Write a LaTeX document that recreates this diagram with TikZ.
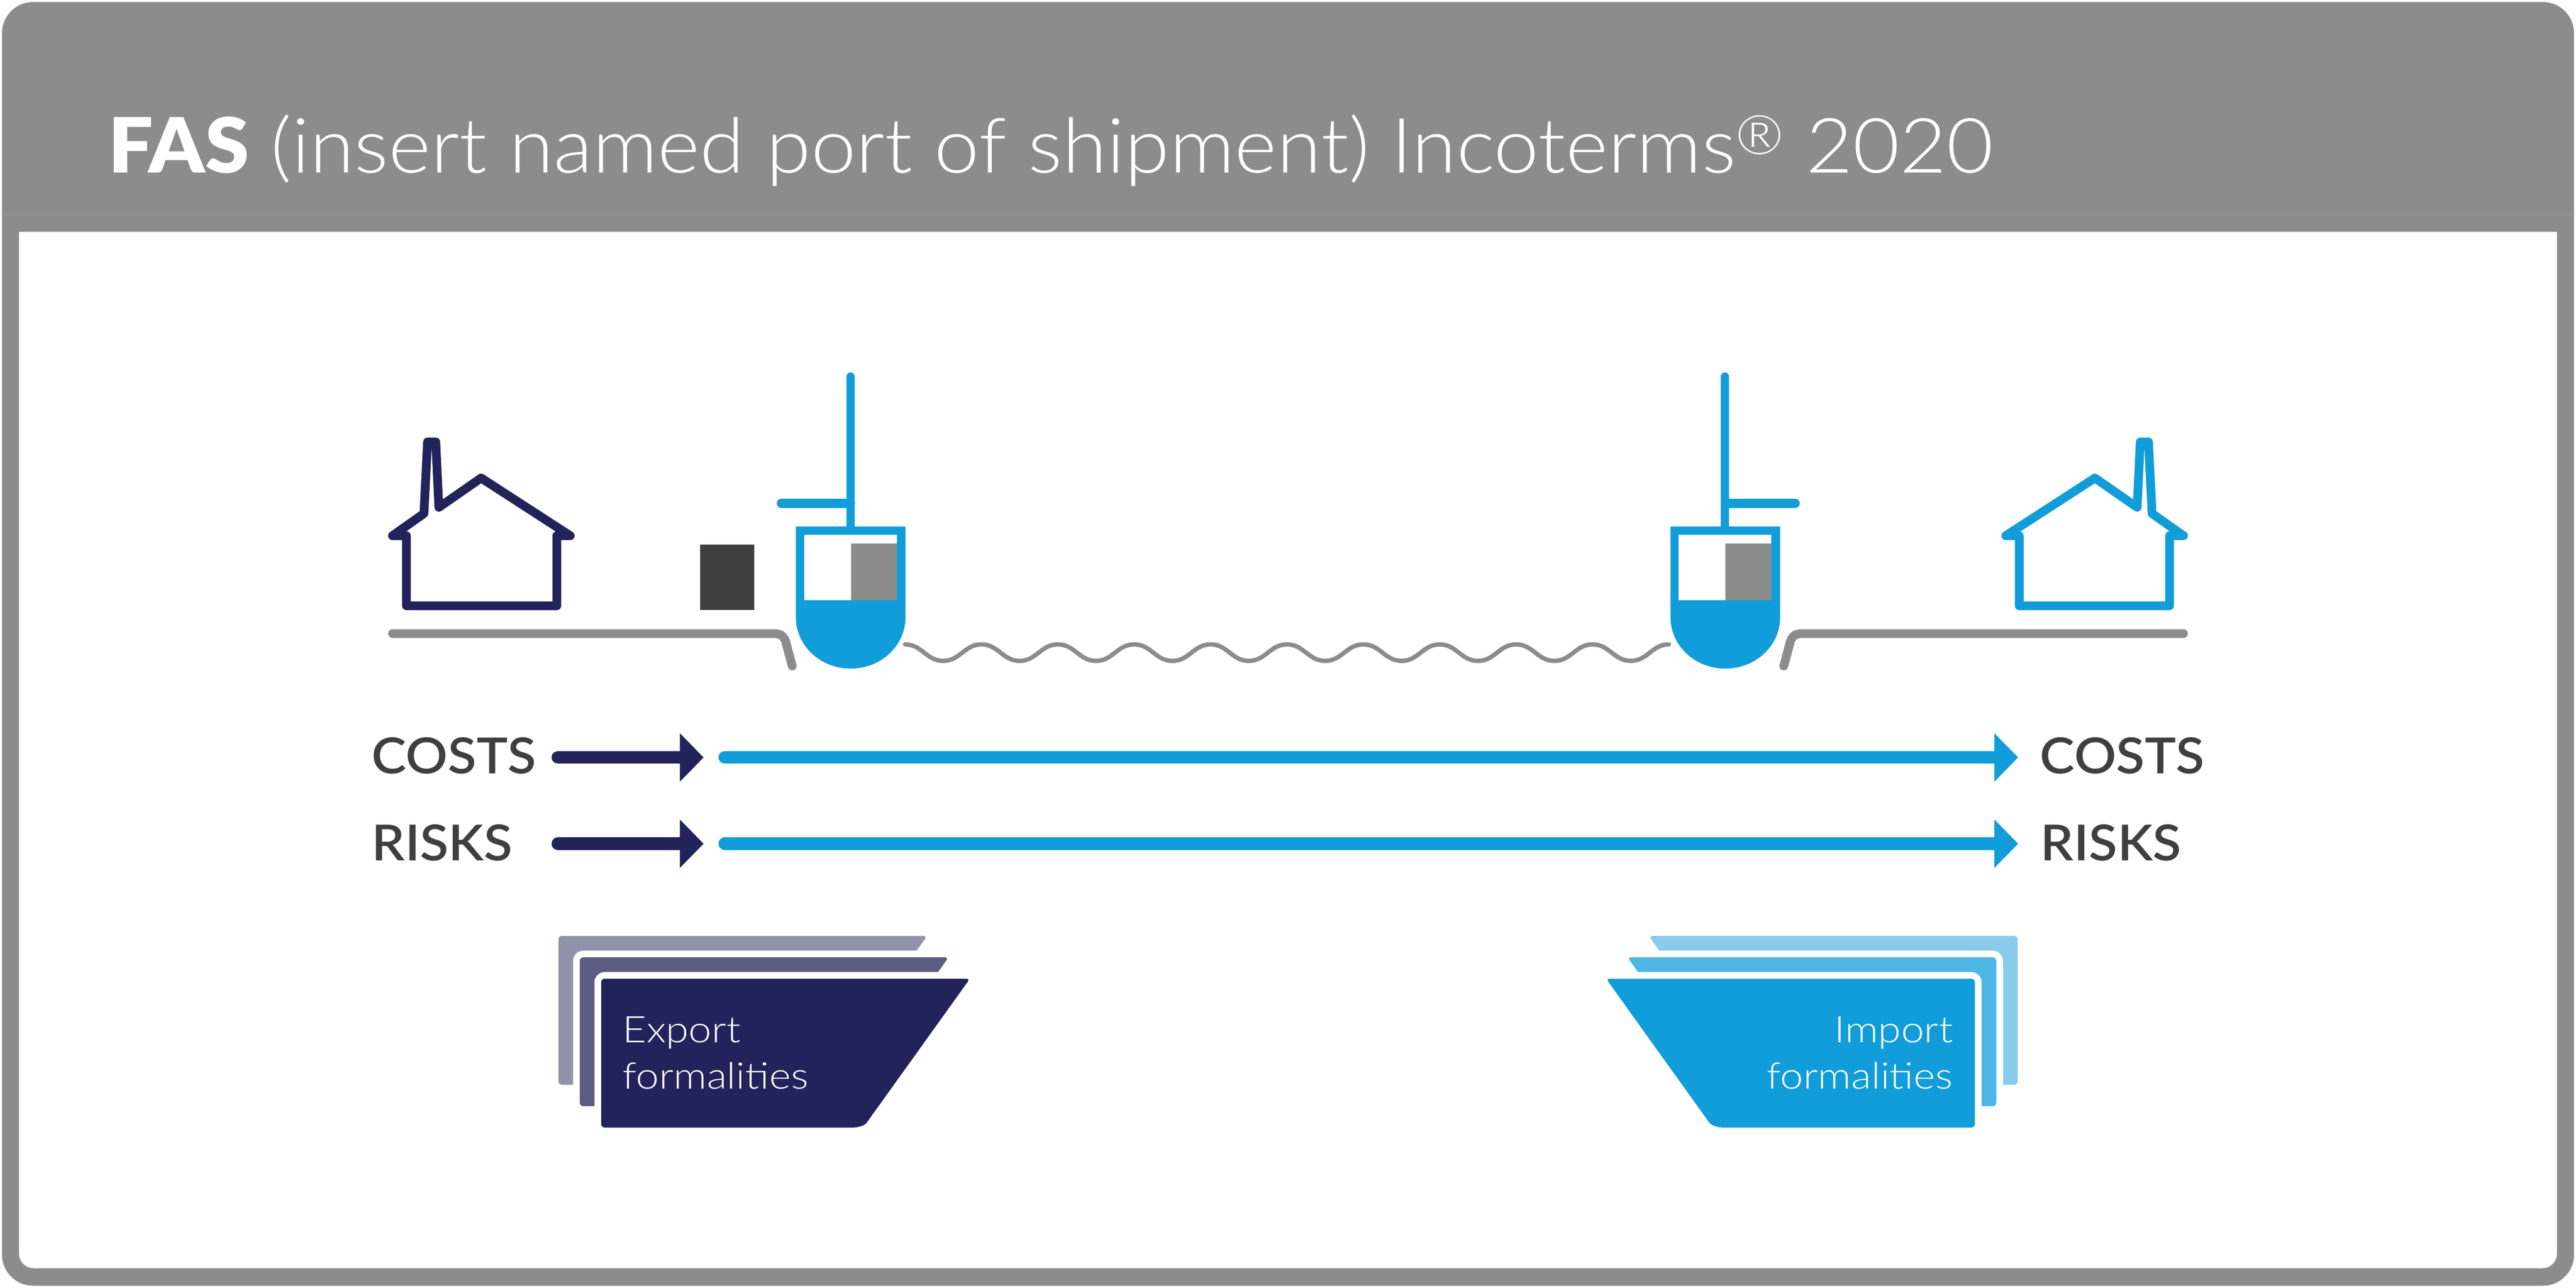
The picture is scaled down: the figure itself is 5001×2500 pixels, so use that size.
\documentclass[tikz,border=0pt]{standalone}
\usepackage{fontspec}
\usetikzlibrary{arrows.meta}
\setmainfont{Lato}
\newfontfamily\lightfont{Lato Light}[FakeStretch=1.06]
\newfontfamily\formfont{Lato Light}[FakeStretch=1.13]
\newfontfamily\mediumfont{Lato Semibold}[FakeStretch=1.055]
\newfontfamily\heavyfont{Lato Black}[FakeStretch=1.04]
\definecolor{framegray}{HTML}{8C8C8C}
\definecolor{headline}{HTML}{949494}
\definecolor{boxdark}{HTML}{3F3F3F}
\definecolor{navy}{HTML}{23235B}
\definecolor{navymid}{HTML}{5B5C82}
\definecolor{navylight}{HTML}{9292AD}
\definecolor{sky}{HTML}{119DDA}
\definecolor{skymid}{HTML}{4DB6E4}
\definecolor{skylight}{HTML}{88CBEA}
\tikzset{
    housestroke/.style={line width=0.17cm,line join=round},
    groundline/.style={framegray,line width=0.17cm,line cap=round,line join=round},
    waveline/.style={framegray,line width=0.085cm,line cap=round},
    mastline/.style={sky,line width=0.16cm,line cap=round},
    flagline/.style={sky,line width=0.18cm,line cap=round},
    flowarrow/.style={line width=0.245cm,line cap=round,-{Triangle[length=0.46cm,width=0.91cm]}},
    flowlabel/.style={boxdark,inner sep=0pt,anchor=base west,font=\fontsize{27.4}{30}\mediumfont},
    formlabel/.style={white,inner sep=0pt,anchor=base west,font=\fontsize{20.2}{25.6}\formfont},
    formsheet/.style={preaction={draw=white,line width=0.26cm,line join=round}},
}
% outline of a house, roof and chimney included
\newcommand{\houseoutline}[1]{
    \draw[housestroke,#1] (762,1040) -- (823,997) -- (830,858) -- (846,858) -- (852,985) -- (934,928)
        -- (1107,1040) -- (1081,1040) -- (1081,1176) -- (789,1176) -- (789,1040) -- cycle;
}
\newcommand{\quayline}{
    \draw[groundline] (762,1230) -- (1503,1230) .. controls (1516,1230) and (1523,1236) .. (1526,1248) -- (1538,1293);
}
% three stacked sheets, with a white rim round each one
\newcommand{\formstack}[3]{
    \foreach \off/\col in {83/#1,41.5/#2,0/#3}{
        \fill[\col,formsheet,rounded corners=0.07cm,shift={(-\off,-\off)}] (1167,2189) -- (1167,1900) -- (1883,1900)
            -- (1686.5,2174) .. controls (1678,2186) and (1663,2189) .. (1650,2189) -- cycle;
    }
}
\begin{document}
\begin{tikzpicture}[x=0.01cm,y=-0.01cm]
    \useasboundingbox (0,0) rectangle (5001,2500);
    % frame and heading
    \fill[framegray,rounded corners=0.6cm] (4,4) rectangle (4997,2496);
    \fill[white,rounded corners=0.28cm] (37,1000) [sharp corners] -- (37,450) -- (4964,450) [rounded corners=0.28cm] -- (4964,2462) -- (37,2462) -- cycle;
    \draw[headline,line width=0.012cm] (4,416) -- (4997,416);
    \node[white,inner sep=0pt,anchor=base west,font=\fontsize{42.1}{46}\lightfont] (heading) at (210,336)
        {{\heavyfont FAS} (insert named port of shipment) Incoterms\raisebox{0.36cm}{\fontsize{30}{30}\selectfont ®} 2020};

    % houses and quays
    \houseoutline{navy}
    \quayline
    \begin{scope}[shift={(5001,0)},xscale=-1]
        \houseoutline{sky}
        \quayline
    \end{scope}

    % goods at the quayside
    \fill[boxdark] (1359,1057) rectangle (1464,1184);

    % both ships
    \foreach \sx in {0,1698}{
        \begin{scope}[shift={(\sx,0)}]
            \draw[mastline] (1651,1030) -- (1651,731);
            \fill[sky] (1545,1022) -- (1758,1022) -- (1758,1198) .. controls (1758,1253) and (1711,1298) .. (1651.5,1298)
                .. controls (1592,1298) and (1545,1253) .. (1545,1198) -- cycle;
            \fill[white] (1561,1038) rectangle (1741,1165);
            \fill[framegray] (1652,1055) rectangle (1741,1165);
        \end{scope}
    }
    \draw[flagline] (1651,977) -- (1517,977);
    \draw[flagline] (3350,977) -- (3485,977);

    % sea between the ships
    \coordinate (wavestart) at (1757,1251);
    \draw[waveline] (wavestart)
        \foreach \i in {1,...,10}{
            .. controls +(33,0) and +(-33,0) .. ++(74.15,32)
            .. controls +(33,0) and +(-33,0) .. ++(74.15,-32)
        };

    % costs and risks
    \node[flowlabel] (costsleft) at (721,1502) {COSTS};
    \node[flowlabel] (risksleft) at (721,1671) {RISKS};
    \node[flowlabel] (costsright) at (3960,1502) {COSTS};
    \node[flowlabel] (risksright) at (3961,1671) {RISKS};
    \coordinate (costsa) at (1083,1470.5);
    \coordinate (costsb) at (1366,1470.5);
    \coordinate (costsc) at (1407,1470.5);
    \coordinate (costsd) at (3918,1470.5);
    \coordinate (risksa) at (1083,1638);
    \coordinate (risksb) at (1366,1638);
    \coordinate (risksc) at (1407,1638);
    \coordinate (risksd) at (3918,1638);
    \draw[flowarrow,navy] (costsa) -- (costsb);
    \draw[flowarrow,sky] (costsc) -- (costsd);
    \draw[flowarrow,navy] (risksa) -- (risksb);
    \draw[flowarrow,sky] (risksc) -- (risksd);

    % formalities
    \formstack{navylight}{navymid}{navy}
    \begin{scope}[shift={(5001,0)},xscale=-1]
        \formstack{skylight}{skymid}{sky}
    \end{scope}
    \node[formlabel,align=left] (exportform) at (1208,2114) {Export\\formalities};
    \node[formlabel,align=right,anchor=base east] (importform) at (3792,2114) {Import\\formalities};
\end{tikzpicture}
\end{document}
